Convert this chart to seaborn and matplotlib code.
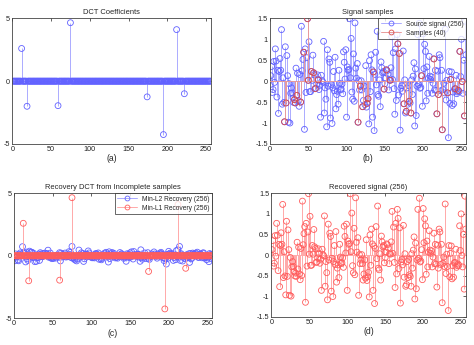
import numpy as np
import pandas as pd
import matplotlib
matplotlib.use("Agg")
import matplotlib.pyplot as plt
from matplotlib.lines import Line2D
from matplotlib.ticker import FuncFormatter
import seaborn as sns

N = 256
# DCT coefficients (panel a, and min-L1 recovery in panel c)
coef_idx = [12, 19, 59, 75, 174, 195, 212, 222]
coef_val = [2.6, -2.0, -1.95, 4.65, -1.25, -4.25, 4.1, -1.0]
# source / recovered signal, in hundredths (panels b and d)
signal_cents = [13,35,-27,-20,47,-3,77,48,-38,26,-77,23,54,26,123,-55,8,-51,-97,82,-52,61,13,-98,-6,-100,-29,-16,-28,-40,-51,-44,-52,31,-34,19,-46,-60,16,-50,131,25,52,69,-115,77,-27,56,149,2,94,-25,-25,23,2,62,20,16,-18,-17,-7,15,3,-20,-10,-86,14,1,-2,95,-76,-16,-43,-109,75,-12,53,45,-88,-8,-101,-16,23,-23,57,-66,-32,-24,-55,26,-5,-21,-19,-7,-30,70,45,5,75,-86,34,26,28,149,8,102,-26,-43,65,-48,139,31,7,42,-98,1,-21,-12,1,-21,-61,-46,-12,-56,37,-62,-53,-42,-102,49,-25,63,27,-86,22,-118,16,69,-9,119,-32,-36,3,-61,46,32,20,23,-19,-6,7,27,25,17,-21,3,2,32,106,4,68,-18,-79,77,-46,111,89,-33,66,-117,-17,-11,-24,72,-54,3,-76,-72,-16,-55,-11,-48,-52,-76,3,-32,12,44,-107,29,-82,-12,111,-8,138,-17,-15,13,-60,113,30,88,71,-47,34,-29,7,59,12,4,10,-29,-5,53,-21,26,-22,-78,24,-32,63,56,-23,26,-116,-20,-5,-28,124,-45,2,-28,-135,23,-53,4,22,-58,-26,-54,-19,-18,14,-30,-26,-22,-25,71,11,100,-1,-29,50,-83,143,63]
# positions of the 40 samples (panel b)
sample_idx = [19, 21, 32, 33, 35, 40, 44, 49, 50, 54, 57, 59, 63, 115, 118, 121, 127, 128, 135, 149, 152, 157, 167, 169, 175, 178, 182, 184, 198, 214, 218, 220, 225, 232, 236, 242, 246, 248, 251, 254]
# min-L2 recovery of the DCT, in hundredths (panel c)
l2_cents = [-40,15,-11,-6,-33,-40,11,23,1,1,73,22,17,23,-49,30,-24,-37,-7,37,-9,30,28,-14,22,-12,-47,-1,-44,-15,-14,14,-37,25,15,-7,-7,19,4,22,6,18,14,45,-12,-9,22,-15,-23,-12,-21,-6,-2,-18,4,7,-4,-12,25,-41,21,-10,12,-4,-3,22,-10,7,-8,-5,33,11,27,-15,75,-20,-15,-26,-34,-10,-41,-26,0,46,2,1,24,-6,18,-45,-24,14,12,-9,11,39,23,4,-9,3,-16,-15,-7,-17,16,16,16,-1,23,-28,-2,-23,-32,-20,10,-3,21,-1,28,4,14,-50,32,-22,16,-4,26,11,20,-5,-17,-12,-11,-19,-1,-5,26,10,17,-5,6,-20,-12,-6,-44,16,-10,12,-13,24,-10,32,5,-26,34,10,-2,-1,-3,13,13,-11,-44,48,-15,-27,0,-10,23,0,-22,-3,25,-21,-29,-7,-1,15,-1,4,31,15,6,-5,-19,15,6,-3,18,28,17,11,-17,-38,-22,-22,-66,11,-20,36,16,22,11,17,0,-37,-14,1,-31,42,-8,48,5,75,-37,17,8,-42,0,-20,-21,2,8,-17,-15,16,-53,19,-25,-19,22,14,13,18,22,-1,29,-12,-13,11,16,10,-16,22,24,-18,-15,-8,-31,-2,-17,-47,18,11,-22,5]

xs = np.arange(1, N + 1)
sig = np.array(signal_cents) / 100.0
l2 = np.array(l2_cents) / 100.0
coef = np.zeros(N); coef[np.array(coef_idx) - 1] = coef_val
samp_x = np.array(sample_idx); samp_y = sig[samp_x - 1]

sns.set_style("white")
plt.rcParams['font.family'] = ['Liberation Sans', 'DejaVu Sans']
plt.rcParams['axes.unicode_minus'] = False
fig = plt.figure(figsize=(4.74, 3.45), dpi=100)
W, H = 474, 345
def mkax(l, r, t, b):
    return fig.add_axes([l / W, 1 - b / H, (r - l) / W, (b - t) / H])
axa = mkax(12.3, 210.7, 18.3, 144)
axb = mkax(270, 466, 18.3, 144)
axc = mkax(14, 212, 193.3, 318.3)
axd = mkax(271.3, 465.7, 193.3, 316.7)

BLUE, BLUE_L = '#6262ff', '#ababff'
RED, RED_L = '#ff5c5c', '#ffa9a9'
RED2, RED2_L = '#d94a4a', '#e89a9a'

def stem(ax, xv, yv, col, lcol, z=2):
    ax.vlines(xv, 0, yv, color=lcol, lw=0.7, zorder=z)
    ax.axhline(0, color=lcol, lw=0.7, zorder=z)
    df = pd.DataFrame({'n': xv, 'v': yv})
    sns.scatterplot(data=df, x='n', y='v', ax=ax, marker='o', s=18,
                    facecolors='none', edgecolor=col, linewidth=0.6, legend=False, zorder=z + 0.5)

stem(axa, xs, coef, BLUE, BLUE_L)
stem(axb, xs, sig, BLUE, BLUE_L)
stem(axb, samp_x, samp_y, RED2, RED2_L, z=3)
stem(axc, xs, l2, BLUE, BLUE_L)
stem(axc, xs, coef, RED, RED_L, z=3)
stem(axd, xs, sig, RED, RED_L)

fmt = FuncFormatter(lambda v, p: '%g' % v)
for ax, yl, yt, title, lab in [(axa, 5, [-5, 0, 5], 'DCT Coefficients', '(a)'),
                               (axb, 1.5, np.arange(-1.5, 1.6, 0.5), 'Signal samples', '(b)'),
                               (axc, 5, [-5, 0, 5], 'Recovery DCT from Incomplete samples', '(c)'),
                               (axd, 1.5, np.arange(-1.5, 1.6, 0.5), 'Recovered signal (256)', '(d)')]:
    ax.set_xlim(0, 256); ax.set_ylim(-yl, yl)
    ax.set_xticks([0, 50, 100, 150, 200, 250]); ax.set_yticks(yt)
    ax.xaxis.set_major_formatter(fmt); ax.yaxis.set_major_formatter(fmt)
    ax.tick_params(labelsize=5.2, length=2, width=0.5, direction='in', pad=1.5,
                   top=True, right=True, colors='#222222')
    for s in ax.spines.values():
        s.set_linewidth(0.6); s.set_color('#444444')
    ax.set_title(title, fontsize=5.4, pad=3)
    ax.set_xlabel(lab, fontsize=6.2, labelpad=1)
    ax.set_ylabel('')

def leg(ax, labels, cols):
    hs = [Line2D([], [], color=lc, lw=0.7, marker='o', mfc='none', mec=c, ms=3.5, mew=0.6) for c, lc in cols]
    L = ax.legend(hs, labels, loc='upper right', fontsize=4.8, frameon=True, fancybox=False,
                  borderaxespad=0.0, handlelength=3.0, handletextpad=0.8, borderpad=0.35, labelspacing=0.3)
    L.get_frame().set_edgecolor('#222222'); L.get_frame().set_linewidth(0.6)
leg(axb, ['Source signal (256)', 'Samples (40)'], [(BLUE, BLUE_L), (RED2, RED2_L)])
leg(axc, ['Min-L2 Recovery (256)', 'Min-L1 Recovery (256)'], [(BLUE, BLUE_L), (RED, RED_L)])

fig.savefig("out.png", dpi=100)
